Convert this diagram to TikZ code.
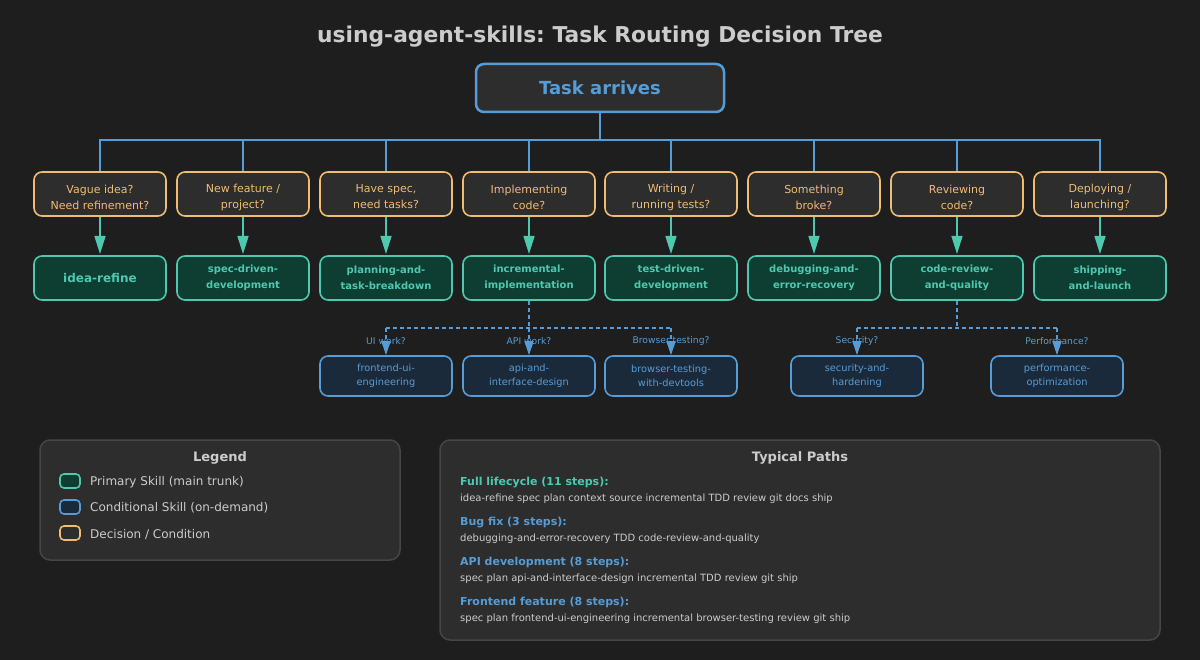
\documentclass[tikz,border=0pt]{standalone}
\usepackage{fontspec}
\setmainfont{DejaVu Sans}
\frenchspacing
\usetikzlibrary{arrows.meta,positioning}
\definecolor{bg}{HTML}{1E1E1E}
\definecolor{panel}{HTML}{2D2D2D}
\definecolor{teal}{HTML}{4EC9B0}
\definecolor{tealfill}{HTML}{0E3D31}
\definecolor{blu}{HTML}{569CD6}
\definecolor{blufill}{HTML}{1B2A3B}
\definecolor{orng}{HTML}{F0BC70}
\definecolor{txt}{HTML}{CCCCCC}
\definecolor{panelborder}{HTML}{464646}
\tikzset{
  decision/.style={draw=orng,line width=1.6pt,fill=panel,rounded corners=8pt,minimum width=132pt,minimum height=44pt,inner sep=0pt},
  dectext/.style={align=center,text=orng,font=\fontsize{11}{16}\selectfont,inner sep=0pt},
  primary/.style={draw=teal,line width=1.6pt,fill=tealfill,rounded corners=8pt,minimum width=132pt,minimum height=44pt,align=center,text=teal,font=\bfseries\fontsize{10}{16}\selectfont,inner sep=0pt},
  cond/.style={draw=blu,line width=1.6pt,fill=blufill,rounded corners=8pt,minimum width=132pt,minimum height=40pt,align=center,text=blu,font=\fontsize{9.8}{14}\selectfont,inner sep=0pt},
  trunk/.style={draw=blu,line width=1.5pt},
  primarrow/.style={draw=teal,line width=1.5pt,-{Triangle[width=11pt,length=18pt]}},
  condline/.style={draw=blu,line width=1.5pt,dash pattern=on 4pt off 3pt},
  condarrow/.style={condline,-{Triangle[width=9pt,length=14pt]}},
  condlabel/.style={text=blu,font=\fontsize{9.2}{11}\selectfont,inner sep=0pt},
  panelbox/.style={draw=panelborder,line width=1.5pt,fill=panel,rounded corners=10pt},
  swatch/.style={line width=1.6pt,rounded corners=4pt,minimum width=20pt,minimum height=14pt,inner sep=0pt},
  legtext/.style={text=txt,font=\fontsize{12}{14}\selectfont,anchor=west,inner sep=0pt},
  pathhead/.style={font=\bfseries\fontsize{11}{13}\selectfont,anchor=west,inner sep=0pt},
  pathtext/.style={text=txt,font=\fontsize{10}{12}\selectfont,anchor=west,inner sep=0pt},
  paneltitle/.style={text=txt,font=\bfseries\fontsize{13}{15}\selectfont,inner sep=0pt},
}
\begin{document}
\begin{tikzpicture}[x=1pt,y=-1pt]
\fill[bg] (0,0) rectangle (1200,660);
\useasboundingbox (0,0) rectangle (1200,660);

\node[text=txt,font=\bfseries\fontsize{21.8}{24}\selectfont] (title) at (600,37) {using-agent-skills: Task Routing Decision Tree};

\node[draw=blu,line width=2.5pt,fill=panel,rounded corners=8pt,minimum width=248pt,minimum height=48pt,text=blu,font=\bfseries\fontsize{18}{20}\selectfont] (task) at (600,88) {Task arrives};

% decisions
\foreach \n/\x/\t in {d1/100/{Vague idea?\\Need refinement?},
                      d2/243/{New feature /\\project?},
                      d3/386/{Have spec,\\need tasks?},
                      d4/529/{Implementing\\code?},
                      d5/671/{Writing /\\running tests?},
                      d6/814/{Something\\broke?},
                      d7/957/{Reviewing\\code?},
                      d8/1100/{Deploying /\\launching?}} {
  \node[decision] (\n) at (\x,194) {};
  \node[dectext] (\n-t) at (\x,197) {\t};
}

% primary
\node[primary,font=\bfseries\fontsize{12}{16}\selectfont] (p1) at (100,278) {idea-refine};
\node[primary] (p2) at (243,278) {spec-driven-\\development};
\node[primary] (p3) at (386,278) {planning-and-\\task-breakdown};
\node[primary] (p4) at (529,278) {incremental-\\implementation};
\node[primary] (p5) at (671,278) {test-driven-\\development};
\node[primary] (p6) at (814,278) {debugging-and-\\error-recovery};
\node[primary] (p7) at (957,278) {code-review-\\and-quality};
\node[primary] (p8) at (1100,278) {shipping-\\and-launch};

% trunk lines
\coordinate (hub) at (600,140);
\draw[trunk] (task.south) -- (hub);
\draw[trunk] (d1.north) |- (d8.north |- hub) -- (d8.north);
\foreach \i in {2,...,7} { \draw[trunk] (d\i.north) -- (d\i.north |- hub); }

\foreach \i in {1,...,8} { \draw[primarrow] (d\i.south) -- (p\i.north |- 0,254); }

% conditional
\node[cond] (c1) at (386,376) {frontend-ui-\\engineering};
\node[cond] (c2) at (529,376) {api-and-\\interface-design};
\node[cond] (c3) at (671,376) {browser-testing-\\with-devtools};
\node[cond] (c4) at (857,376) {security-and-\\hardening};
\node[cond] (c5) at (1057,376) {performance-\\optimization};

\coordinate (j1) at (529,328);
\coordinate (j2) at (957,328);
\draw[condline] (p4.south) -- (j1);
\draw[condline] (c1.north |- j1) -- (c3.north |- j1);
\draw[condarrow] (c1.north |- j1) -- (c1.north);
\draw[condarrow] (j1) -- (c2.north);
\draw[condarrow] (c3.north |- j1) -- (c3.north);
\draw[condline] (p7.south) -- (j2);
\draw[condline] (c4.north |- j2) -- (c5.north |- j2);
\draw[condarrow] (c4.north |- j2) -- (c4.north);
\draw[condarrow] (c5.north |- j2) -- (c5.north);

\node[condlabel] (l1) at (386,341) {UI work?};
\node[condlabel] (l2) at (529,341) {API work?};
\node[condlabel] (l3) at (671,341) {Browser testing?};
\node[condlabel] (l4) at (857,341) {Security?};
\node[condlabel] (l5) at (1057,341) {Performance?};

% legend
\draw[panelbox] (40,440) rectangle (400,560);
\node[paneltitle] (legtitle) at (220,458) {Legend};
\node[swatch,draw=teal,fill=tealfill] (s1) at (70,481) {};
\node[swatch,draw=blu,fill=blufill] (s2) at (70,507) {};
\node[swatch,draw=orng,fill=panel] (s3) at (70,533) {};
\node[legtext] (t1) at (90,482) {Primary Skill (main trunk)};
\node[legtext] (t2) at (90,508) {Conditional Skill (on-demand)};
\node[legtext] (t3) at (90,534) {Decision / Condition};

% typical paths
\draw[panelbox] (440,440) rectangle (1160,640);
\node[paneltitle] (ptitle) at (800,458) {Typical Paths};
\node[pathhead,text=teal] (h1) at (460,482.5) {Full lifecycle (11 steps):};
\node[pathtext] (x1) at (460,498.5) {idea-refine spec plan context source incremental TDD review git docs ship};
\node[pathhead,text=blu] (h2) at (460,522.5) {Bug fix (3 steps):};
\node[pathtext] (x2) at (460,538.5) {debugging-and-error-recovery TDD code-review-and-quality};
\node[pathhead,text=blu] (h3) at (460,562.5) {API development (8 steps):};
\node[pathtext] (x3) at (460,578.5) {spec plan api-and-interface-design incremental TDD review git ship};
\node[pathhead,text=blu] (h4) at (460,602.5) {Frontend feature (8 steps):};
\node[pathtext] (x4) at (460,618.5) {spec plan frontend-ui-engineering incremental browser-testing review git ship};
\end{tikzpicture}
\end{document}
